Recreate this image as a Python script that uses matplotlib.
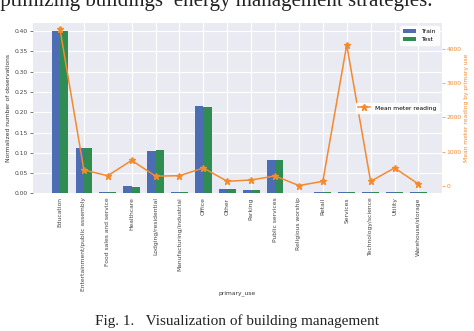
import matplotlib
matplotlib.use("Agg")
import matplotlib.pyplot as plt
import numpy as np

categories = ["Education", "Entertainment/public assembly", "Food sales and service",
              "Healthcare", "Lodging/residential", "Manufacturing/industrial", "Office",
              "Other", "Parking", "Public services", "Religious worship", "Retail",
              "Services", "Technology/science", "Utility", "Warehouse/storage"]
train = [0.401, 0.111, 0.004, 0.019, 0.104, 0.003, 0.216, 0.011, 0.008, 0.081,
         0.0005, 0.003, 0.003, 0.002, 0.002, 0.004]
test = [0.400, 0.112, 0.004, 0.016, 0.106, 0.003, 0.214, 0.011, 0.008, 0.081,
        0.0005, 0.003, 0.003, 0.002, 0.002, 0.004]
mean_reading = [4573, 459, 292, 742, 280, 292, 518, 128, 167, 284, 5, 128, 4114,
                128, 518, 50]

BLUE = "#4c6db3"
GREEN = "#2f8c52"
ORANGE = "#f28a30"
BG = "#eaeaf2"
FS = 4.3

fig = plt.figure(figsize=(4.74, 3.31), dpi=100)
ax = fig.add_axes([0.0696, 0.416, 0.862, 0.5155])
ax.set_facecolor(BG)
for s in ax.spines.values():
    s.set_visible(False)

x = np.arange(len(categories))
w = 0.35
ax.bar(x - w / 2, train, w, color=BLUE, label="Train", zorder=2)
ax.bar(x + w / 2, test, w, color=GREEN, label="Test", zorder=2)
ax.set_xlim(-1.13, 15.97)
ax.set_ylim(0, 0.421)
ax.set_yticks(np.arange(0, 0.41, 0.05))
ax.set_yticklabels([f"{v:.2f}" for v in np.arange(0, 0.41, 0.05)])
ax.set_xticks(x)
ax.set_xticklabels(categories, rotation=90)
ax.grid(True, color="white", linewidth=0.8, zorder=0)
ax.set_axisbelow(True)
ax.tick_params(axis="both", labelsize=FS, colors="#444444", length=2, width=0.5, pad=1.5)
ax.tick_params(axis="x", length=0, pad=3)
ax.set_ylabel("Normalized number of observations", fontsize=FS, color="#333333", labelpad=3)
ax.set_xlabel("primary_use", fontsize=FS, color="#333333")
ax.xaxis.set_label_coords(0.5, (193.3 - 290) / 170.6)
ax.legend(loc="upper right", fontsize=FS, frameon=True, facecolor="white",
          edgecolor="white", framealpha=0.9, handlelength=2.2, borderpad=0.5)

ax2 = ax.twinx()
for s in ax2.spines.values():
    s.set_visible(False)
ax2.plot(x, mean_reading, color=ORANGE, marker="*", markersize=4.5, linewidth=1.1,
         label="Mean meter reading", zorder=3)
ax2.set_ylim(-222, 4766)
ax2.set_yticks([0, 1000, 2000, 3000, 4000])
ax2.grid(False)
ax2.tick_params(axis="y", labelsize=FS, colors=ORANGE, length=2, width=0.5, pad=1.5)
ax2.set_ylabel("Mean meter reading by primary use", fontsize=FS, color=ORANGE, labelpad=2)
ax2.legend(loc="center right", fontsize=FS, frameon=True, facecolor="white",
           edgecolor="white", framealpha=0.9, handlelength=2.0)

serif = ["Liberation Serif", "DejaVu Serif"]
fig.text(432 / 474, 1 - 6 / 331, "optimizing buildings\u2019 energy management strategies.",
         ha="right", va="baseline", fontsize=15, family=serif, color="#222222")
fig.text(0.5, 1 - 325 / 331, "Fig. 1.   Visualization of building management",
         ha="center", va="baseline", fontsize=11, family=serif, color="#222222")

fig.savefig("out.png", dpi=100)
